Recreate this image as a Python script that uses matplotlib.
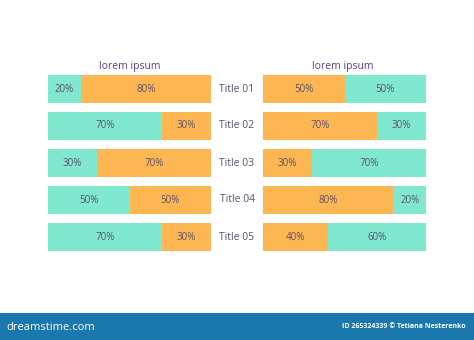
import matplotlib
matplotlib.use('Agg')
import matplotlib.pyplot as plt
from matplotlib.patches import Rectangle

titles = ['Title 01', 'Title 02', 'Title 03', 'Title 04', 'Title 05']
left_teal = [20, 70, 30, 50, 70]
left_orange = [80, 30, 70, 50, 30]
right_orange = [50, 70, 30, 80, 40]
right_teal = [50, 30, 70, 20, 60]
panel_title = 'lorem ipsum'

teal = '#80E8CE'
orange = '#FDB752'
txt = '#5C4F70'
purple = '#5B3F8E'

plt.rcParams['font.family'] = ['Open Sans', 'DejaVu Sans']

W, H = 474, 340
fig = plt.figure(figsize=(W / 100, H / 100), dpi=100)
fig.patch.set_facecolor('white')

h = 28 / 37
top_px, bot_px = 75, 251


def make_ax(x0, x1):
    ax = fig.add_axes([x0 / W, 1 - bot_px / H, (x1 - x0) / W, (bot_px - top_px) / H])
    ax.set_xlim(0, 100)
    ax.set_ylim(4 + h / 2, -h / 2)
    ax.axis('off')
    return ax


def draw(ax, first, second, c1, c2):
    ys = range(len(first))
    ax.barh(ys, first, height=h, color=c1, linewidth=0)
    ax.barh(ys, second, left=first, height=h, color=c2, linewidth=0)
    for y, a, b in zip(ys, first, second):
        ax.text(a / 2, y, f'{a}%', ha='center', va='center', fontsize=7, color=txt)
        ax.text(a + b / 2, y, f'{b}%', ha='center', va='center', fontsize=7, color=txt)


axl = make_ax(48, 211)
draw(axl, left_teal, left_orange, teal, orange)
axr = make_ax(263, 426)
draw(axr, right_orange, right_teal, orange, teal)

fig.text(130 / W, 1 - 66 / H, panel_title, ha='center', va='center', fontsize=7.5, color=purple)
fig.text(343 / W, 1 - 67 / H, panel_title, ha='center', va='center', fontsize=7.5, color=purple)

for i, t in enumerate(titles):
    fig.text(237 / W, 1 - (89 + 37 * i) / H, t, ha='center', va='center', fontsize=7.5, color=txt)

# footer strip
fig.patches.append(Rectangle((0, 0), 1, 27 / H, transform=fig.transFigure,
                             facecolor='#1B78AC', edgecolor='none'))
fig.text(6 / W, 13 / H, 'dreamstime.com', ha='left', va='center', fontsize=8,
         color='white')
fig.text(466 / W, 13 / H, 'ID 265324339 \u00a9 Tetiana Nesterenko', ha='right', va='center',
         fontsize=5, color='white', fontweight='bold')

fig.savefig('out.png', dpi=100)
